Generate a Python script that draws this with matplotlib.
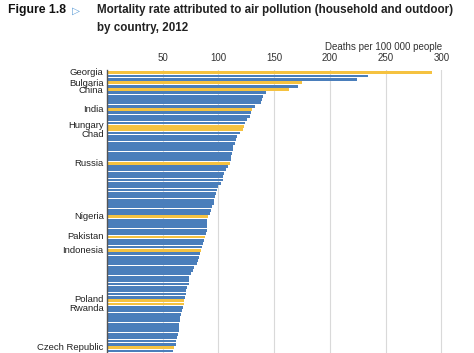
import numpy as np
import matplotlib
matplotlib.use('Agg')
import matplotlib.pyplot as plt

# deaths per 100 000 people, one value per country, sorted from top to bottom
values = [292, 234, 224, 175, 171, 163, 143, 140, 139, 138,
          133, 130, 129, 128, 125.5, 124, 123, 122, 119.5, 117,
          116, 115, 113.5, 113, 112, 111.5, 111, 110.5, 108.5, 107,
          105, 104.5, 104, 102, 100, 98.6, 98, 97, 96, 95.6,
          94.5, 93.5, 92.5, 91, 90, 90, 89.7, 89.5, 89, 88,
          87, 86, 85, 84.6, 83.7, 82.8, 81.3, 80.7, 78.3, 77,
          75.6, 74, 73.6, 73.2, 71.8, 71.2, 70.5, 70.3, 69.4, 68.8,
          67.9, 67.3, 66.4, 65.8, 65.2, 64.9, 64.6, 64.3, 63.4, 62.8,
          62.2, 61.5, 59.8, 59.2]

# countries that are named (and highlighted) and their row in the list
named = ['Georgia', 'Bulgaria', 'China', 'India', 'Hungary', 'Chad', 'Russia',
         'Nigeria', 'Pakistan', 'Indonesia', 'Poland', 'Rwanda', 'Czech Republic']
named_rows = [0, 3, 5, 11, 16, 17, 27, 43, 49, 53, 68, 69, 82]

x_ticks = [50, 100, 150, 200, 250, 300]

blue = '#4a7ebb'
yellow = '#f5c240'

colors = [blue] * len(values)
for r in named_rows:
    colors[r] = yellow

plt.rcParams['font.family'] = ['Liberation Sans', 'DejaVu Sans']

fig = plt.figure(figsize=(4.74, 3.53), dpi=100)
ax = fig.add_axes([0.2257, 0.0, 0.729, 0.8017])

y = np.arange(len(values))
ax.barh(y, values, height=0.85, color=colors, zorder=2)

ax.set_ylim(83.6, -0.8)
ax.set_xlim(0, 310)

# ticks on top, vertical light grid
ax.xaxis.tick_top()
ax.set_xticks(x_ticks)
ax.set_xticklabels([str(t) for t in x_ticks], fontsize=7, color='#333333')
ax.tick_params(axis='x', length=0, pad=5)
ax.grid(axis='x', color='#d9d9d9', linewidth=0.8, zorder=0)
ax.set_yticks([])

for s in ['top', 'right', 'bottom']:
    ax.spines[s].set_visible(False)
ax.spines['left'].set_color('#555555')
ax.spines['left'].set_linewidth(1.0)
ax.spines['left'].set_zorder(3)

# country names, pairs that sit too close are pushed apart a little
shift = {'Bulgaria': 0.1, 'China': 0.4, 'Hungary': -0.1, 'Chad': 1.4,
         'Poland': -0.3, 'Rwanda': 1.2}
for name, r in zip(named, named_rows):
    ax.text(-3, r + shift.get(name, 0), name, ha='right', va='center',
            fontsize=6.8, color='#222222', clip_on=False)

ax.text(301, 1.065, 'Deaths per 100 000 people', transform=ax.get_xaxis_transform(),
        ha='right', va='bottom', fontsize=7, color='#333333')

# titolo
fig.text(0.017, 0.972, 'Figure 1.8', fontsize=8.8, fontweight='bold',
         color='#111111', va='center')
fig.text(0.152, 0.970, '\u25b7', fontsize=7.5, color='#5b9bd5', va='center',
         family='DejaVu Sans')
fig.text(0.205, 0.972, 'Mortality rate attributed to air pollution (household and outdoor)',
         fontsize=8.4, fontweight='bold', color='#222222', va='center')
fig.text(0.205, 0.92, 'by country, 2012',
         fontsize=8.4, fontweight='bold', color='#222222', va='center')

fig.savefig('out.png', dpi=100)
